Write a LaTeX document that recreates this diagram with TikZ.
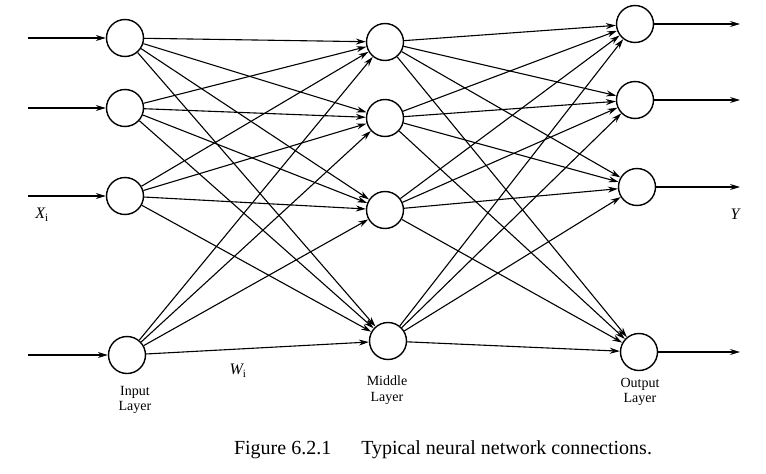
\documentclass[tikz,border=0pt]{standalone}
\usepackage{fontspec}
\setmainfont{Liberation Serif}
\usetikzlibrary{arrows.meta}
\begin{document}
\begin{tikzpicture}[x=1pt,y=-1pt,
  neuron/.style={circle,draw,line width=1.4pt,minimum size=37pt,inner sep=0pt},
  conn/.style={-{Stealth[length=10pt,width=6pt]},line width=1.1pt},
  lbl/.style={font=\fontsize{14}{15.5}\selectfont,align=center}]
\useasboundingbox (0,0) rectangle (766,474);
\node[neuron] (i1) at (125,38) {};
\node[neuron] (i2) at (125,108) {};
\node[neuron] (i3) at (125,196) {};
\node[neuron] (i4) at (127,355) {};
\node[neuron] (m1) at (385,42) {};
\node[neuron] (m2) at (385,118) {};
\node[neuron] (m3) at (385,210) {};
\node[neuron] (m4) at (388,341) {};
\node[neuron] (o1) at (635,24) {};
\node[neuron] (o2) at (635,100) {};
\node[neuron] (o3) at (637,187) {};
\node[neuron] (o4) at (639,352) {};
\foreach \k/\y in {1/38,2/108,3/196,4/355}{
  \coordinate (s\k) at (28,\y);
  \draw[conn] (s\k) -- (i\k);
}
\foreach \k/\y in {1/24,2/100,3/187,4/352}{
  \coordinate (e\k) at (740,\y);
  \draw[conn] (o\k) -- (e\k);
}
\foreach \a in {1,...,4}{\foreach \b in {1,...,4}{
  \draw[conn] (i\a) -- (m\b);
  \draw[conn] (m\a) -- (o\b);
}}
\node[font=\itshape\fontsize{16}{18}\selectfont] (xi) at (42,215) {X\textsubscript{\upshape i}};
\node[font=\itshape\fontsize{16}{18}\selectfont] (wi) at (238,371) {W\textsubscript{\upshape i}};
\node[font=\itshape\fontsize{16}{18}\selectfont] (y) at (735,214) {Y};
\node[lbl] (il) at (135,400) {Input\\Layer};
\node[lbl] (ml) at (387,390) {Middle\\Layer};
\node[lbl] (ol) at (640,392) {Output\\Layer};
\node[font=\fontsize{20}{22}\selectfont] (cap) at (443,450) {Figure 6.2.1\quad\ \ Typical neural network connections.};
\end{tikzpicture}
\end{document}
